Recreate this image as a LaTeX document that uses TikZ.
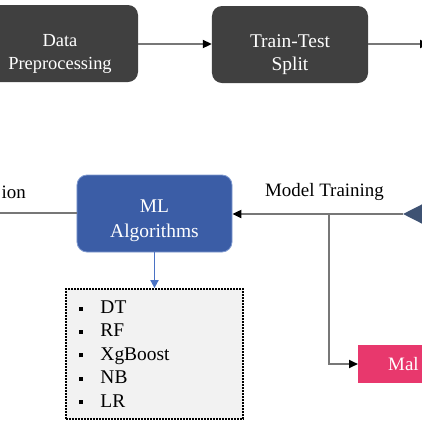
\documentclass[tikz,border=0pt]{standalone}
\usepackage{fontspec}
\setmainfont{Liberation Serif}
\usetikzlibrary{arrows.meta,shapes.geometric}
\definecolor{darkbox}{HTML}{404040}
\definecolor{mlblue}{HTML}{3B5DA6}
\definecolor{mlborder}{HTML}{7F9AD0}
\definecolor{malpink}{HTML}{E8386D}
\definecolor{diamcol}{HTML}{3E5273}
\definecolor{linegray}{HTML}{777777}
\definecolor{listfill}{HTML}{F2F2F2}
\definecolor{arrowblue}{HTML}{4A72C4}
\newcommand{\bulsq}{\makebox[26bp][l]{\hspace{5bp}\rule[3bp]{4bp}{4bp}}}
\begin{document}
\begin{tikzpicture}[x=1bp,y=-1bp,
  font=\fontsize{19}{24}\selectfont,
  darkstep/.style={rectangle, rounded corners=10bp, fill=darkbox,
    minimum width=156bp, minimum height=77bp, inner sep=0bp},
  boxtext/.style={text=white, align=center, inner sep=0bp},
  conn/.style={draw=linegray, line width=2bp},
  arr/.style={conn, -{Triangle[length=9bp,width=8bp,black]}},
  lbl/.style={inner sep=0bp}
]
\useasboundingbox (0,0) rectangle (422,422);
\clip (0,0) rectangle (422,422);

% top row
\node[darkstep, label={[boxtext, yshift=-10bp, font=\fontsize{18.5}{23}\selectfont]center:Data\\Preprocessing}] (dp) at (60,43.5) {};
\node[darkstep, label={[boxtext, yshift=-10bp, font=\fontsize{19.5}{23}\selectfont]center:Train-Test\\Split}] (tts) at (290,44.5) {};
\coordinate (rt) at (429,44);
\draw[arr] (dp.east |- 0,44) -- (tts.west |- 0,44);
\draw[arr] (tts.east |- 0,44) -- (rt);

% middle row
\node[rectangle, rounded corners=10bp, fill=mlblue, draw=mlborder, line width=0.8bp,
  minimum width=155bp, minimum height=77bp, inner sep=0bp,
  label={[boxtext, yshift=-7bp, font=\fontsize{19.5}{25.5}\selectfont]center:ML\\Algorithms}] (ml) at (154.5,213.5) {};
\node[lbl, anchor=east] (evl) at (26,192) {ion};
\coordinate (lt) at (-5,213);
\draw[conn] (ml.west |- 0,213) -- (lt);

\node[diamond, fill=diamcol, minimum width=94bp, minimum height=48bp, inner sep=0bp] (dia) at (450,214) {};
\draw[arr] (dia.west) -- (ml.east |- 0,214);
\node[lbl] (mt) at (324.5,192) {Model Training};

\coordinate (br) at (329,214);
\node[rectangle, fill=malpink, text=white, anchor=west, inner xsep=30bp, text width=94bp,
  align=left, minimum height=38bp] (mal) at (358,364) {Mal};
\draw[arr] (br) |- (mal.west);

% list
\node[rectangle, fill=listfill, draw=black, line width=1.8bp, dash pattern=on 1.6bp off 1.4bp,
  minimum width=177bp, minimum height=130bp, text width=160bp, align=left,
  font=\fontsize{19.5}{23.5}\selectfont, inner sep=0bp] (lst) at (154.5,354)
  {\bulsq DT\\ \bulsq RF\\ \bulsq XgBoost\\ \bulsq NB\\ \bulsq LR};
\draw[draw=arrowblue, line width=1.8bp, -{Triangle[length=8bp,width=8bp,arrowblue]}] (ml.south) -- (lst.north);
\end{tikzpicture}
\end{document}
